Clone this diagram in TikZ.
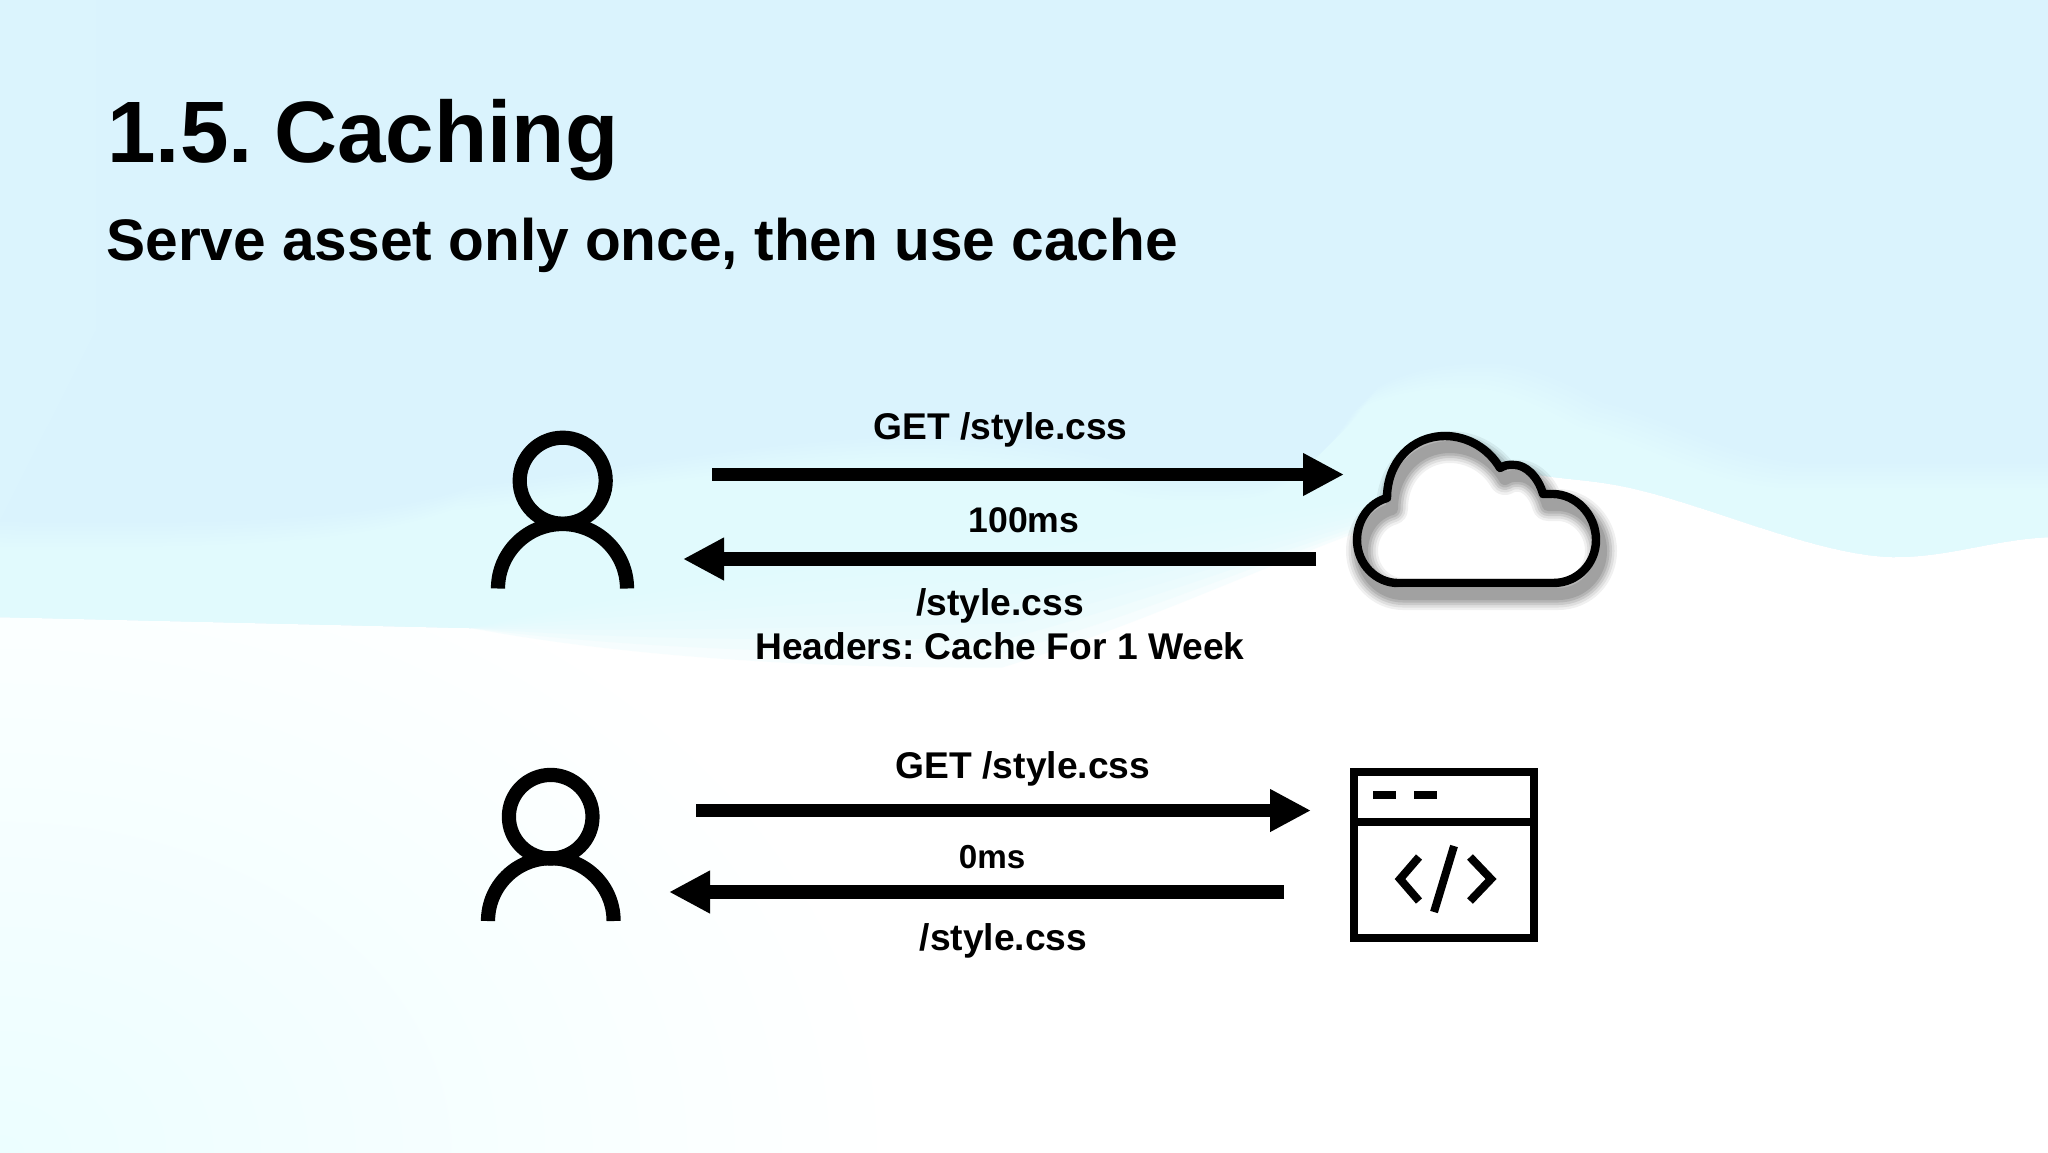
\documentclass[tikz,border=0pt]{standalone}
\usepackage{fontspec}
\setmainfont{Liberation Sans}
\usetikzlibrary{arrows.meta}
\definecolor{skyBlue}{HTML}{DAF3FE}
\definecolor{skyPale}{HTML}{E1FAFD}
\definecolor{skyFaint}{HTML}{ECFEFF}
\tikzset{
  x=0.5pt,y=-0.5pt,
  lbl/.style={font=\fontsize{18.6}{22}\selectfont\bfseries,inner sep=0pt,align=center,text=black},
  flow/.style={line width=6.6pt,-{Triangle[length=20.5pt,width=20pt]}},
  icon/.style={line width=7.1pt,draw=black},
  thin icon/.style={line width=4pt,draw=black},
}
\def\cloudpath{(1398,583) -- (1553,583) .. controls (1578,583) and (1596,563) .. (1596,540) .. controls (1596,514) and (1575,494) .. (1553,494) -- (1543,494) .. controls (1538,476) and (1525,465) .. (1515,465) .. controls (1508,464) and (1503,466) .. (1500,468) .. controls (1489,449) and (1468,436) .. (1445,436) .. controls (1412,436) and (1387,462) .. (1387,498) .. controls (1369,503) and (1357,520) .. (1357,540) .. controls (1357,564) and (1376,583) .. (1398,583) -- cycle}
\begin{document}
\begin{tikzpicture}
\frenchspacing
\useasboundingbox (0,0) rectangle (2048,1152);
\fill[white] (0,0) rectangle (2048,1152);
% faint tint, lower left corner
\begin{scope}
\clip (0,0) rectangle (2048,1152);
\shade[inner color=skyFaint,outer color=white] (0,1152) ellipse[x radius=900,y radius=660];
\end{scope}
% pale layer: sharp edge at the far left and right, soft in the middle
\foreach \t in {0,0.08,...,1.0}{
  \fill[skyPale,opacity=.28] (0,0) -- (2048,0) -- (2048,537)
    .. controls (1990,540) and (1950,557) .. (1893,557)
    .. controls (1820,555) and (1720,510) .. (1640,490)
    .. controls (1600,480) and (1570,480) .. (1540,475)
    .. controls ({1450-100*\t},{480+40*\t}) and ({1300-100*\t},{470+140*\t}) .. ({1050-50*\t},{490+185*\t})
    .. controls ({850-50*\t},{505+170*\t}) and ({650-30*\t},{560+100*\t}) .. (470,628)
    -- (0,617) -- cycle;
}
% blue layer: soft lower edge
\foreach \i in {0,1,...,8}{
  \begin{scope}[shift={(\i*4,-\i*4)}]
  \fill[skyBlue,opacity=.14] (-60,-60) -- (2100,-60) -- (2100,487)
    -- (1775,487) .. controls (1700,480) and (1640,440) .. (1580,427)
    .. controls (1540,405) and (1500,387) .. (1468,387)
    .. controls (1420,387) and (1380,395) .. (1350,413)
    .. controls (1330,440) and (1300,490) .. (1250,497)
    .. controls (1200,502) and (1160,500) .. (1130,495)
    .. controls (1050,470) and (950,455) .. (850,462)
    .. controls (700,470) and (520,505) .. (450,510)
    .. controls (350,545) and (200,550) .. (-60,545) -- cycle;
  \end{scope}
}
% paler strip along the left edge
\foreach \w in {12,24,...,96}{
  \fill[skyPale,opacity=.16] (0,-5) -- (\w,-5) -- (\w,330) -- (0,520) -- cycle;
}
% arrows
\coordinate (a1s) at (712,474.5); \coordinate (a1e) at (1344,474.5);
\coordinate (a2s) at (1316,559); \coordinate (a2e) at (683,559);
\coordinate (a3s) at (696,810.5); \coordinate (a3e) at (1311,810.5);
\coordinate (a4s) at (1284,892); \coordinate (a4e) at (669,892);
\draw[flow] (a1s) -- (a1e);
\draw[flow] (a2s) -- (a2e);
\draw[flow] (a3s) -- (a3e);
\draw[flow] (a4s) -- (a4e);
% titles
\node[anchor=base west,inner sep=0pt,font=\fontsize{43.6}{50}\selectfont\bfseries] (title) at (107,162) {1.5.\hspace{-1.3pt} Caching};
\node[anchor=base west,inner sep=0pt,font=\fontsize{29.3}{34}\selectfont\bfseries] (sub) at (106,260) {Serve asset only once, then use cache};
% labels
\node[lbl] (l1) at (1000.5,429.5) {GET /style.css};
\node[lbl,font=\fontsize{17.8}{22}\selectfont\bfseries] (l2) at (1024,520) {100ms};
\node[lbl] (l3) at (1000,624) {/style.css\\[0.2pt]Headers: Cache For 1 Week};
\node[lbl] (l4) at (1023,769) {GET /style.css};
\node[lbl,font=\fontsize{16.6}{20}\selectfont\bfseries] (l5) at (992,857) {0ms};
\node[lbl] (l6) at (1003.5,941) {/style.css};
% person 1
\draw[icon] (562.7,480.7) circle[radius=43];
\draw[icon] (498,588.5) arc[start angle=180,end angle=360,radius=64.5];
% person 2
\draw[icon] (550.7,816.7) circle[radius=41.8];
\draw[icon] (488,921) arc[start angle=180,end angle=360,radius=62.8];
% cloud
\fill[white] \cloudpath;
\foreach \w/\o in {32/.06,27/.07,22/.09,17/.1,12/.11}{
  \begin{scope}[shift={(5,11)}]
  \draw[black,opacity=\o,line width=\w*0.5pt,line join=round] \cloudpath;
  \end{scope}
}
\draw[black,line width=4.2pt,line join=round] \cloudpath;
% browser
\draw[thin icon] (1353.5,772) rectangle (1534,938);
\draw[thin icon] (1353.5,822) -- (1534,822);
\draw[thin icon] (1373,795) -- (1396,795);
\draw[thin icon] (1414,795) -- (1437,795);
\draw[thin icon] (1419,857) -- (1400,879) -- (1419,901);
\draw[thin icon] (1470,857) -- (1491,879) -- (1470,901);
\draw[thin icon] (1454,846) -- (1434,912);
\end{tikzpicture}
\end{document}
